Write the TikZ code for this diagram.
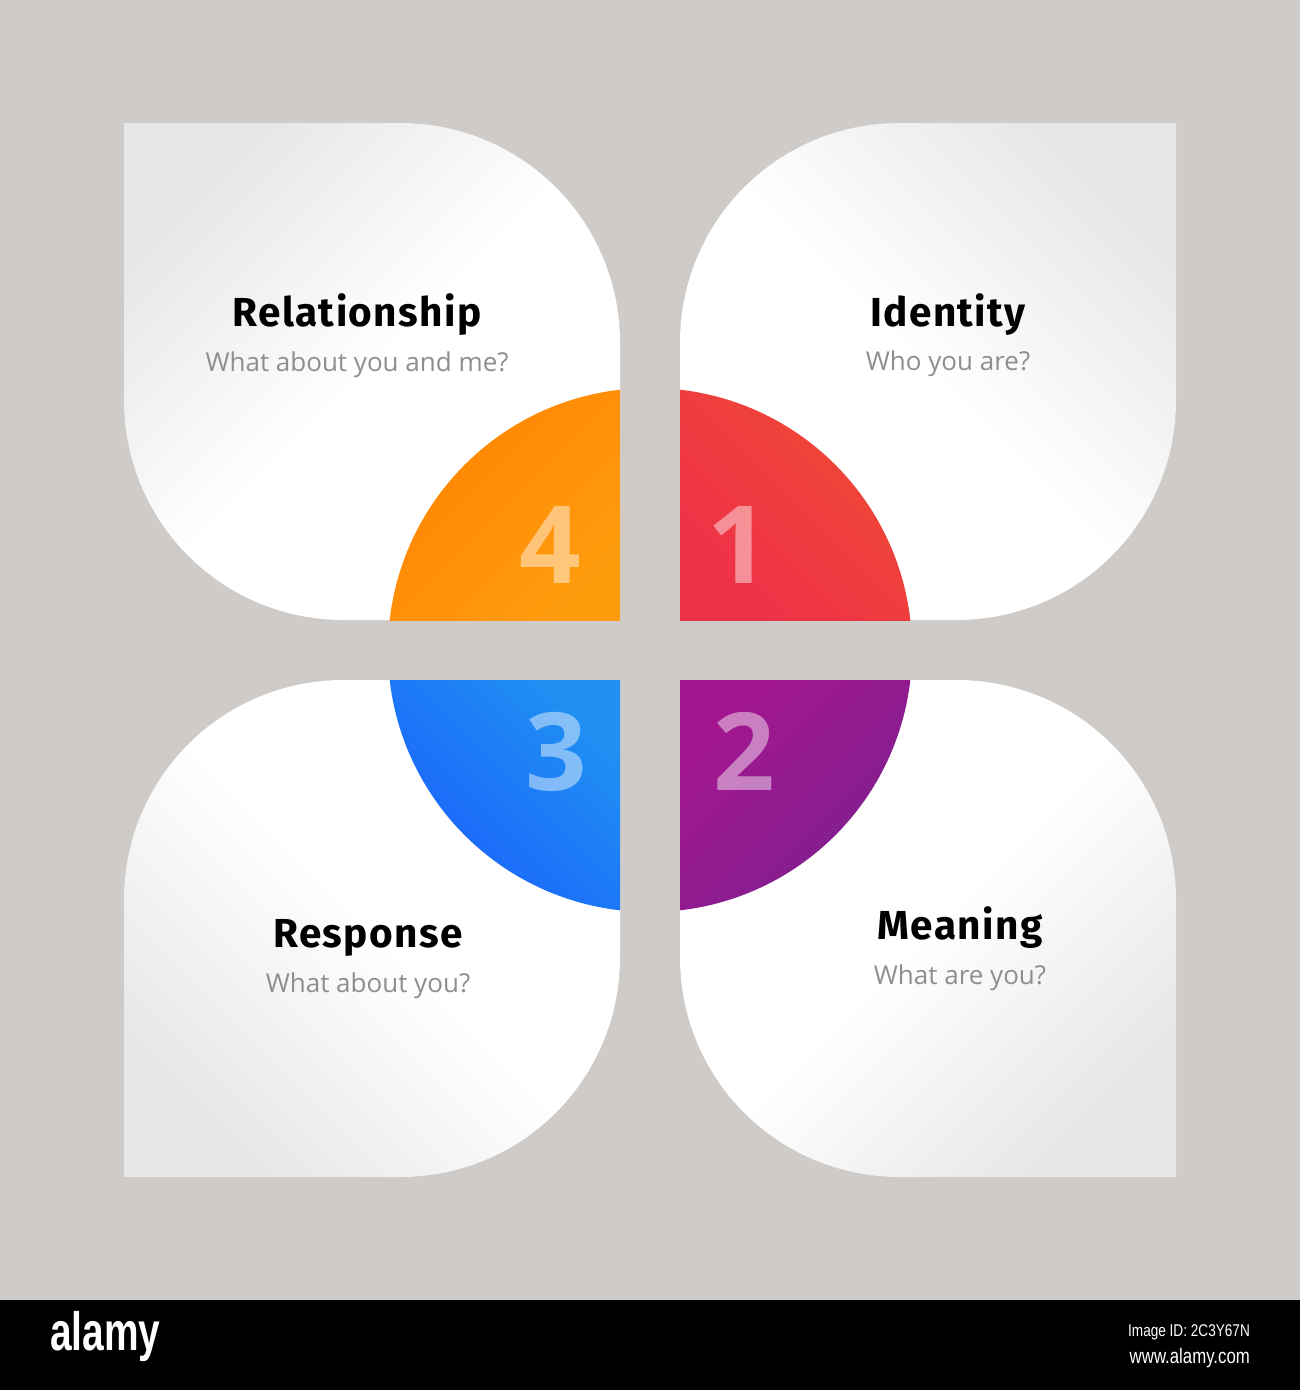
\documentclass[tikz,border=0pt]{standalone}
\usepackage{fontspec}
\setmainfont{Open Sans}
\newfontfamily\titlefont[LetterSpace=3.5]{Fira Sans}
\newfontfamily\barfont{Liberation Sans}
\definecolor{bgGray}{HTML}{CECBC8}
\definecolor{petalGray}{HTML}{E6E7E8}
\definecolor{subGray}{HTML}{8E8E8E}
\definecolor{orangeA}{HTML}{FF8200}
\definecolor{orangeB}{HTML}{FF9C0E}
\definecolor{redA}{HTML}{F04C33}
\definecolor{redB}{HTML}{EE3049}
\definecolor{purpleA}{HTML}{A4168F}
\definecolor{purpleB}{HTML}{7A2190}
\definecolor{blueA}{HTML}{1F90F2}
\definecolor{blueB}{HTML}{1A5EFD}
\begin{document}
\begin{tikzpicture}
    [x=1pt, y=-1pt,
     petal/.style={top color=petalGray, bottom color=white, middle color=white},
     title/.style={font=\titlefont\bfseries\fontsize{40.5}{44}\selectfont, text=black, inner sep=0pt, anchor=base},
     sub/.style={font=\fontsize{26}{30}\selectfont, text=subGray, inner sep=0pt, anchor=base},
     num/.style={font=\bfseries\fontsize{108}{110}\selectfont, text=white, text opacity=0.45, inner sep=0pt, anchor=base},
     bartext/.style={font=\barfont, text=white, inner sep=0pt}]
    \useasboundingbox (0,0) rectangle (1300,1390);
    \fill[bgGray] (0,0) rectangle (1300,1300);
    \fill[black] (0,1300) rectangle (1300,1390);

    % petals
    \shade[petal, shading angle=45] (124,123) -- (400,123) .. controls (522,123) and (620,221) .. (620,343)
        -- (620,620) -- (344,620) .. controls (222,620) and (124,522) .. (124,400) -- cycle;
    \shade[petal, shading angle=-45] (680,620) -- (680,343) .. controls (680,221) and (778,123) .. (900,123)
        -- (1176,123) -- (1176,400) .. controls (1176,522) and (1078,620) .. (956,620) -- cycle;
    \shade[petal, shading angle=135] (124,1177) -- (124,900) .. controls (124,778) and (222,680) .. (344,680)
        -- (620,680) -- (620,957) .. controls (620,1079) and (522,1177) .. (400,1177) -- cycle;
    \shade[petal, shading angle=225] (680,680) -- (956,680) .. controls (1078,680) and (1176,778) .. (1176,900)
        -- (1176,1177) -- (900,1177) .. controls (778,1177) and (680,1079) .. (680,957) -- cycle;

    % circle quarters
    \begin{scope}
        \clip (650,650) circle[radius=262];
        \shade[left color=orangeA, right color=orangeB, shading angle=45] (380,380) rectangle (620,620);
        \shade[left color=redB, right color=redA, shading angle=135] (680,380) rectangle (920,620);
        \shade[left color=purpleA, right color=purpleB, shading angle=45] (680,680) rectangle (920,920);
        \shade[left color=blueB, right color=blueA, shading angle=135] (380,680) rectangle (620,920);
    \end{scope}

    \node[num] (n4) at (550,583) {4};
    \node[num] (n1) at (738,583) {1};
    \node[num] (n3) at (556,790) {3};
    \node[num] (n2) at (744,790) {2};

    \node[title] (rel) at (357,326) {Relationship};
    \node[sub] (relq) at (357,371) {What about you and me?};
    \node[title] (ide) at (948,326) {Identity};
    \node[sub] (ideq) at (948,370) {Who you are?};
    \node[title] (res) at (368,947) {Response};
    \node[sub] (resq) at (368,992) {What about you?};
    \node[title] (mea) at (960,939) {Meaning};
    \node[sub] (meaq) at (960,984) {What are you?};

    % bottom bar
    \node[bartext, font=\barfont\bfseries\fontsize{54}{56}\selectfont, xscale=0.72, anchor=west] (logo) at (50,1337) {alamy};
    \node[bartext, font=\barfont\fontsize{17}{19}\selectfont, xscale=0.8, anchor=east] (imgid) at (1250,1332) {Image ID: 2C3Y67N};
    \node[bartext, font=\barfont\fontsize{21}{23}\selectfont, xscale=0.8, anchor=east] (www) at (1250,1358) {www.alamy.com};
\end{tikzpicture}
\end{document}
